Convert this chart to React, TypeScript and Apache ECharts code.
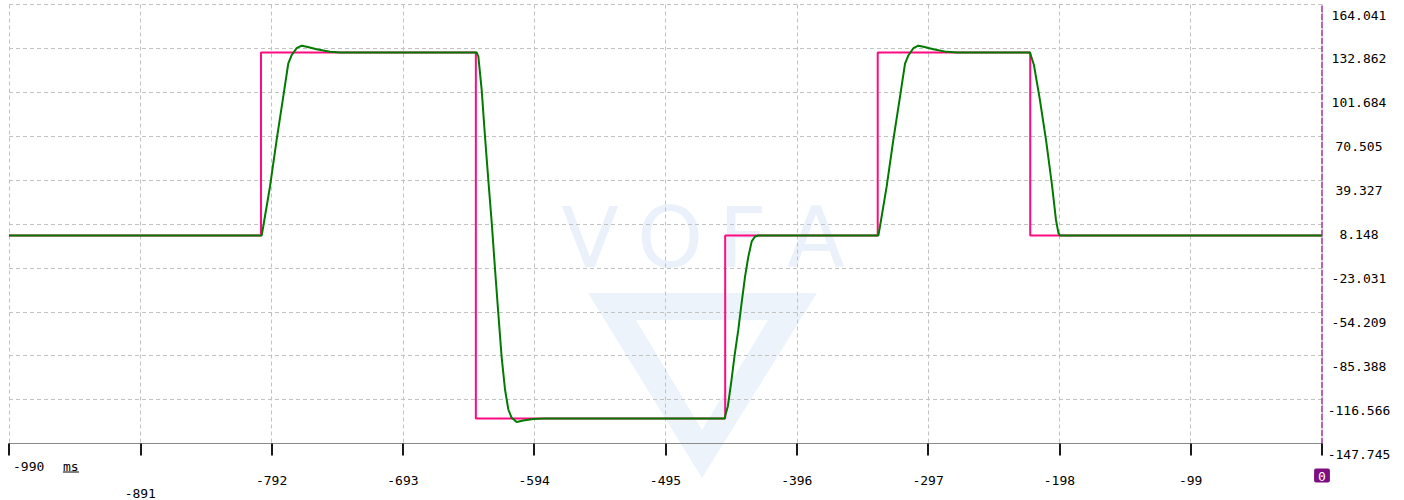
import React, { useEffect, useRef } from 'react';
import * as echarts from 'echarts';

// Axis ranges
const X_MIN = -990;
const X_MAX = 0;
const X_STEP = 99;
const Y_MIN = -147.745;
const Y_MAX = 164.041;
const Y_STEP = 31.1786;

// Tick label rows on the time axis
const xLabelsMid = [-792, -693, -594, -495, -396, -297, -198, -99];
const xLabelsHigh = [-990];
const xLabelsLow = [-891];
const xLabelsCursor = [0];

// Target (pink step) signal
const targetTime = [-990, -800, -800, -638, -638, -450, -450, -335, -335, -220, -220, 0];
const targetValue = [0, 0, 130, 130, -130, -130, 0, 0, 130, 130, 0, 0];

// Response (green) signal
const responseTime = [
  -990, -799.5, -798.3, -793.2, -788.2, -783.2, -779.4, -776.8, -773.1, -769.3, -765.5, -758.0, -748.0, -740,
  -637.4, -636.1, -633.6, -631.1, -628.6, -626.0, -623.6, -621.1, -618.6, -616.0, -613.5, -611.0, -607.2, -602.2, -594.7, -587,
  -450.5, -448.0, -445.5, -443.0, -440.1, -437.6, -435.0, -432.5, -430.0, -427.5, -425,
  -334.5, -333.3, -328.2, -323.2, -318.2, -314.4, -311.8, -308.1, -304.3, -300.5, -293.0, -283.0, -275,
  -220.2, -217.2, -212.7, -208.1, -203.6, -200.6, -198.8, -197.6, 0,
];
const responseValue = [
  0, 0, 6.4, 34.8, 67.9, 98.6, 122.3, 128.2, 133.0, 134.8, 134.1, 132.3, 130.5, 130,
  130, 127.0, 103.4, 70.3, 39.5, 8.8, -23.1, -55.0, -85.8, -109.4, -123.6, -129.5, -132.5, -131.4, -130.3, -130,
  -130, -121.3, -104.7, -85.8, -66.9, -47.9, -29.1, -14.9, -4.2, -0.7, 0,
  0, 6.4, 35.0, 68.0, 98.5, 122.0, 128.0, 133.0, 134.8, 134.0, 132.3, 130.4, 130,
  130, 121.1, 96.3, 67.9, 36.0, 11.2, 2.0, 0, 0,
];

const MONO = "'DejaVu Sans Mono', 'Liberation Mono', monospace";

export default function App() {
  const ref = useRef<HTMLDivElement>(null);

  useEffect(() => {
    const chart = echarts.init(ref.current!, null, { renderer: 'svg' });
    const dash = { color: '#c2c2c2', type: [4, 3] as any, width: 1 };
    const baseX = {
      type: 'value' as const,
      min: X_MIN,
      max: X_MAX,
      interval: X_STEP,
      position: 'bottom' as const,
      gridIndex: 0,
    };
    const has = (list: number[], v: number) => list.indexOf(Math.round(v)) >= 0;
    const labelAxis = (list: number[], label: any) => ({
      ...baseX,
      axisLine: { show: false, onZero: false },
      axisTick: { show: false },
      splitLine: { show: false },
      axisLabel: {
        showMinLabel: true,
        showMaxLabel: true,
        fontFamily: MONO,
        fontSize: 13,
        color: '#000',
        ...label,
        formatter: label.formatter || ((v: number) => (has(list, v) ? String(Math.round(v)) : '')),
      },
    });

    const toPairs = (xs: number[], ys: number[]) => xs.map((x, i) => [x, ys[i]]);

    chart.setOption({
      animation: false,
      backgroundColor: '#ffffff',
      grid: { left: 9, right: 82, top: 4.5, bottom: 56 },
      xAxis: [
        {
          ...baseX,
          axisLine: { show: true, onZero: false, lineStyle: { color: '#8a8a8a', width: 1 } },
          axisTick: { show: true, length: 12, lineStyle: { color: '#1a1a1a', width: 2 } },
          splitLine: { show: true, lineStyle: dash },
          axisLabel: {
            showMinLabel: true,
            showMaxLabel: true,
            margin: 30,
            fontFamily: MONO,
            fontSize: 13,
            color: '#000',
            formatter: (v: number) => (has(xLabelsMid, v) ? String(Math.round(v)) : ''),
          },
        },
        labelAxis(xLabelsHigh, { margin: 16.5, align: 'left', padding: [0, 0, 0, 4] }),
        labelAxis(xLabelsLow, { margin: 43.5 }),
        labelAxis(xLabelsCursor, {
          margin: 25.5,
          formatter: (v: number) => (has(xLabelsCursor, v) ? '{b|' + Math.round(v) + '}' : ''),
          rich: {
            b: {
              backgroundColor: '#7e0d80',
              color: '#ffffff',
              padding: [1, 4, 0, 4],
              borderRadius: 2,
              fontFamily: MONO,
              fontSize: 13,
              lineHeight: 13,
            },
          },
        }),
      ],
      yAxis: {
        type: 'value',
        min: Y_MIN,
        max: Y_MAX,
        interval: Y_STEP,
        position: 'right',
        axisLine: { show: true, onZero: false, lineStyle: { color: '#b563b5', type: [5, 3], width: 2 } },
        axisTick: { show: false },
        splitLine: { show: true, lineStyle: dash },
        axisLabel: {
          showMinLabel: true,
          showMaxLabel: true,
          margin: 37,
          align: 'center',
          verticalAlign: 'top',
          padding: [4, 0, 0, 0],
          fontFamily: MONO,
          fontSize: 13,
          color: '#000',
          formatter: (v: number) => v.toFixed(3),
        },
      },
      graphic: [
        // watermark
        {
          type: 'polygon',
          z: -10,
          silent: true,
          shape: { points: [[588, 293], [817, 293], [702, 478]] },
          style: { fill: '#edf3fb' },
        },
        {
          type: 'polygon',
          z: -9,
          silent: true,
          shape: { points: [[636, 320], [768, 320], [702, 430]] },
          style: { fill: '#ffffff' },
        },
        ...['V', 'O', 'F', 'A'].map((ch, i) => ({
          type: 'text',
          z: -9,
          silent: true,
          x: [590, 670, 743, 816][i],
          y: 238,
          style: {
            text: ch,
            fill: '#eaf1fb',
            font: "normal 84px 'DejaVu Sans', sans-serif",
            align: 'center',
            verticalAlign: 'middle',
          },
        })),
        // unit label
        {
          type: 'text',
          x: 63,
          y: 466.5,
          style: {
            text: 'ms',
            fill: '#000',
            font: "13px 'DejaVu Sans Mono', monospace",
            align: 'left',
            verticalAlign: 'middle',
          },
        },
        {
          type: 'rect',
          shape: { x: 63, y: 471.5, width: 16, height: 1 },
          style: { fill: '#000' },
        },
      ],
      series: [
        {
          name: 'target',
          type: 'line',
          xAxisIndex: 0,
          yAxisIndex: 0,
          data: toPairs(targetTime, targetValue),
          showSymbol: false,
          symbol: 'none',
          lineStyle: { color: '#ff0a80', width: 2 },
          silent: true,
        },
        {
          name: 'response',
          type: 'line',
          xAxisIndex: 0,
          yAxisIndex: 0,
          data: toPairs(responseTime, responseValue),
          showSymbol: false,
          symbol: 'none',
          lineStyle: { color: '#007a00', width: 2 },
          silent: true,
        },
      ],
    });

    return () => chart.dispose();
  }, []);

  return (
    <div
      ref={ref}
      style={{ position: 'absolute', left: 0, top: 0, width: 1404, height: 500, background: '#fff' }}
    />
  );
}
